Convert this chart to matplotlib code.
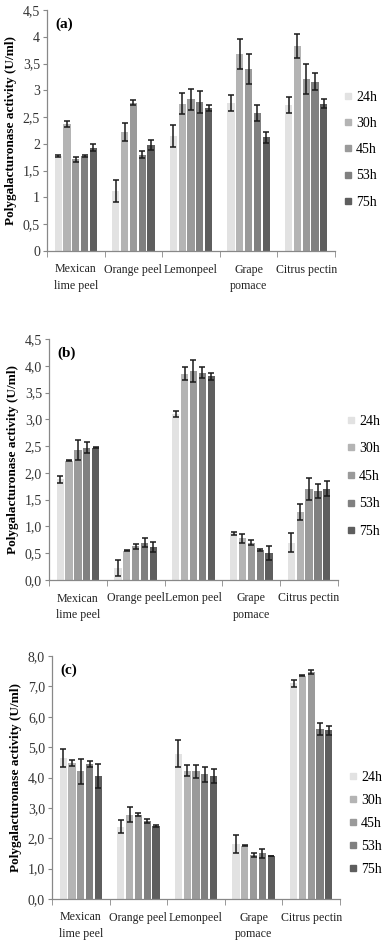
"""
Atividade de poligalacturonase por substrato e tempo de cultivo - três painéis (a), (b), (c).
"""

import numpy as np
import matplotlib.pyplot as plt
from matplotlib.lines import Line2D

plt.rcParams["font.family"] = "Liberation Serif"

tempos = ["24h", "30h", "45h", "53h", "75h"]
cores = ["#e2e2e2", "#b4b4b4", "#9a9a9a", "#808080", "#5e5e5e"]

# painel (a)
categorias_a = ["Mexican\nlime peel", "Orange peel", "Lemonpeel", "Grape\npomace", "Citrus pectin"]
valores_a = [
    [1.78, 1.12, 2.15, 2.77, 2.72],
    [2.37, 2.22, 2.75, 3.67, 3.83],
    [1.71, 2.77, 2.83, 3.40, 3.22],
    [1.78, 1.80, 2.78, 2.58, 3.16],
    [1.93, 1.98, 2.67, 2.12, 2.75],
]
erros_a = [
    [0.02, 0.20, 0.20, 0.15, 0.15],
    [0.05, 0.17, 0.20, 0.28, 0.23],
    [0.04, 0.05, 0.20, 0.28, 0.28],
    [0.02, 0.07, 0.20, 0.15, 0.16],
    [0.06, 0.10, 0.06, 0.10, 0.08],
]
ticks_a = [0, 0.5, 1, 1.5, 2, 2.5, 3, 3.5, 4, 4.5]
rotulos_ticks_a = ["0", "0,5", "1", "1,5", "2", "2,5", "3", "3,5", "4", "4,5"]

# painel (b)
categorias_b = ["Mexican\nlime peel", "Orange peel", "Lemon peel", "Grape\npomace", "Citrus pectin"]
valores_b = [
    [1.88, 0.22, 3.10, 0.87, 0.70],
    [2.23, 0.55, 3.85, 0.78, 1.27],
    [2.43, 0.63, 3.90, 0.70, 1.70],
    [2.47, 0.70, 3.87, 0.56, 1.67],
    [2.47, 0.62, 3.80, 0.50, 1.70],
]
erros_b = [
    [0.06, 0.15, 0.05, 0.03, 0.17],
    [0.01, 0.01, 0.12, 0.08, 0.15],
    [0.18, 0.05, 0.20, 0.05, 0.20],
    [0.10, 0.09, 0.10, 0.01, 0.13],
    [0.01, 0.09, 0.06, 0.13, 0.14],
]
ticks_b = [0, 0.5, 1, 1.5, 2, 2.5, 3, 3.5, 4, 4.5]
rotulos_ticks_b = ["0,0", "0,5", "1,0", "1,5", "2,0", "2,5", "3,0", "3,5", "4,0", "4,5"]

# painel (c)
categorias_c = ["Mexican\nlime peel", "Orange peel", "Lemonpeel", "Grape\npomace", "Citrus pectin"]
valores_c = [
    [4.65, 2.38, 4.78, 1.80, 7.10],
    [4.47, 2.78, 4.23, 1.75, 7.35],
    [4.20, 2.78, 4.20, 1.45, 7.48],
    [4.45, 2.57, 4.10, 1.50, 5.60],
    [4.05, 2.40, 4.05, 1.42, 5.55],
]
erros_c = [
    [0.30, 0.22, 0.45, 0.30, 0.12],
    [0.10, 0.25, 0.17, 0.02, 0.02],
    [0.40, 0.04, 0.22, 0.08, 0.06],
    [0.10, 0.07, 0.25, 0.15, 0.20],
    [0.38, 0.02, 0.22, 0.01, 0.15],
]
ticks_c = [0, 1, 2, 3, 4, 5, 6, 7, 8]
rotulos_ticks_c = ["0,0", "1,0", "2,0", "3,0", "4,0", "5,0", "6,0", "7,0", "8,0"]


def plotar_painel(fig, ret, categorias, valores, erros, ticks, rotulos_ticks, letra,
                  legenda_y, espaco_legenda):
    ax = fig.add_axes(ret)
    n_grupos = len(categorias)
    x = np.arange(n_grupos)
    passo = 0.153
    largura = 0.125
    for i, (serie, err) in enumerate(zip(valores, erros)):
        pos = x + (i - 2) * passo
        ax.bar(pos, serie, largura, color=cores[i], zorder=2)
        ax.errorbar(pos, serie, yerr=err, fmt="none", ecolor="#1a1a1a",
                    elinewidth=1.1, capsize=2.5, capthick=1.1, zorder=3)

    ax.set_xlim(-0.5, n_grupos - 0.5)
    ax.set_ylim(ticks[0], ticks[-1])
    ax.set_yticks(ticks)
    ax.set_yticklabels(rotulos_ticks, fontsize=10, color="#333333")
    ax.set_xticks(x)
    ax.set_xticklabels(categorias, fontsize=8.6, color="#222222", linespacing=1.45)
    ax.set_xticks(np.arange(n_grupos + 1) - 0.5, minor=True)
    ax.tick_params(axis="x", which="major", length=0, pad=9)
    ax.tick_params(axis="x", which="minor", length=4, color="#888888", direction="out")
    ax.tick_params(axis="y", length=3, color="#888888", pad=2)

    for lado in ["top", "right"]:
        ax.spines[lado].set_visible(False)
    for lado in ["left", "bottom"]:
        ax.spines[lado].set_color("#888888")
        ax.spines[lado].set_linewidth(0.9)

    ax.set_ylabel("Polygalacturonase activity (U/ml)", fontsize=9.5, fontweight="bold",
                  labelpad=4)
    ax.text(0.03, 0.97, letra, transform=ax.transAxes, fontsize=11, fontweight="bold",
            va="top", ha="left")

    alcas = [Line2D([0], [0], marker="s", linestyle="none", markersize=5,
                    markerfacecolor=c, markeredgecolor=c) for c in cores]
    ax.legend(alcas, tempos, loc="center left", bbox_to_anchor=(1.01, legenda_y),
              frameon=False, fontsize=10, handlelength=0.6, handletextpad=0.3,
              labelspacing=espaco_legenda, borderaxespad=0)
    return ax


fig = plt.figure(figsize=(3.87, 9.5), dpi=100)

plotar_painel(fig, [47 / 387, 1 - 251 / 950, 288 / 387, 241 / 950],
              categorias_a, valores_a, erros_a, ticks_a, rotulos_ticks_a, "(a)",
              0.42, 0.95)
plotar_painel(fig, [49 / 387, 1 - 580 / 950, 289 / 387, 241 / 950],
              categorias_b, valores_b, erros_b, ticks_b, rotulos_ticks_b, "(b)",
              0.43, 1.05)
plotar_painel(fig, [52 / 387, 1 - 899 / 950, 288 / 387, 243 / 950],
              categorias_c, valores_c, erros_c, ticks_c, rotulos_ticks_c, "(c)",
              0.31, 0.72)

plt.savefig("out.png", dpi=100)
